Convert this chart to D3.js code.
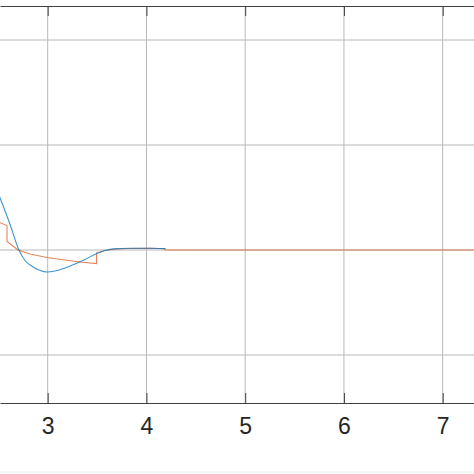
<!DOCTYPE html>
<html lang="en">
<head>
<meta charset="UTF-8">
<title>Response</title>
<script src="https://cdn.jsdelivr.net/npm/d3@7/dist/d3.min.js"></script>
<style>
  body { margin: 0; background: #fff; }
  svg { display: block; }
</style>
</head>
<body>
<script>
// data
var xTicks = [2, 3, 4, 5, 6, 7];
var yGrid = [-1, 0, 1, 2];

var tBlue = [2.50, 2.517, 2.618, 2.709, 2.77, 2.841, 2.922, 2.993, 3.074, 3.175, 3.276, 3.378, 3.499, 3.58, 3.681, 3.833, 4.036, 4.19];
var yBlue = [0.54, 0.498, 0.245, 0.0, -0.1, -0.155, -0.196, -0.21, -0.2, -0.171, -0.133, -0.09, -0.033, -0.005, 0.011, 0.016, 0.016, 0.013];

var tOrange = [2.50, 2.517, 2.588, 2.588, 2.699, 2.821, 2.993, 3.175, 3.327, 3.495, 3.495, 3.58, 3.681, 3.833, 4.04, 4.19, 4.19, 7.4];
var yOrange = [0.265, 0.26, 0.233, 0.081, 0.0, -0.038, -0.071, -0.095, -0.114, -0.129, -0.027, -0.004, 0.01, 0.015, 0.016, 0.012, 0.0, 0.0];

var w = 474, h = 474;
var pLeft = 0, pRight = 474, pTop = 6, pBottom = 403;

var x = d3.scaleLinear()
    .domain([3 - 47.7 / 98.75, 3 + 426.3 / 98.75])
    .range([pLeft, pRight]);
var y = d3.scaleLinear()
    .domain([(250 - pBottom) / 105, (250 - pTop) / 105])
    .range([pBottom, pTop]);

var shownTicks = xTicks.filter(function(d) { return x(d) >= 0; });

var svg = d3.select("body").append("svg")
    .attr("width", w)
    .attr("height", h);

svg.append("defs").append("clipPath").attr("id", "plot")
    .append("rect")
    .attr("x", pLeft).attr("y", pTop)
    .attr("width", pRight - pLeft).attr("height", pBottom - pTop);

// grid
var grid = svg.append("g").attr("stroke", "#b8b8b8").attr("stroke-width", 1);
grid.selectAll(".gx")
    .data(shownTicks)
    .enter().append("line")
    .attr("x1", function(d) { return x(d); })
    .attr("x2", function(d) { return x(d); })
    .attr("y1", pTop).attr("y2", pBottom);
grid.selectAll(".gy")
    .data(yGrid)
    .enter().append("line")
    .attr("x1", pLeft).attr("x2", pRight)
    .attr("y1", function(d) { return y(d); })
    .attr("y2", function(d) { return y(d); });

// lines
var plot = svg.append("g").attr("clip-path", "url(#plot)");

var blueLine = d3.line()
    .x(function(d) { return x(d[0]); })
    .y(function(d) { return y(d[1]); })
    .curve(d3.curveMonotoneX);
var orangeLine = d3.line()
    .x(function(d) { return x(d[0]); })
    .y(function(d) { return y(d[1]); });

plot.append("path")
    .datum(d3.zip(tOrange, yOrange))
    .attr("fill", "none")
    .attr("stroke", "#D95319")
    .attr("stroke-width", 1.1)
    .attr("stroke-opacity", 0.7)
    .attr("d", orangeLine);

plot.append("path")
    .datum(d3.zip(tBlue, yBlue))
    .attr("fill", "none")
    .attr("stroke", "#0072BD")
    .attr("stroke-width", 1.1)
    .attr("stroke-opacity", 0.75)
    .attr("d", blueLine);

// axes
var xAxis = d3.axisBottom(x)
    .tickValues(shownTicks)
    .tickFormat(d3.format("d"))
    .tickSizeInner(-10)
    .tickSizeOuter(0)
    .tickPadding(15);

var gx = svg.append("g")
    .attr("transform", "translate(0," + pBottom + ")")
    .call(xAxis);
gx.selectAll("path, line").attr("stroke", "#404040");
gx.selectAll("text")
    .attr("fill", "#262626")
    .style("font-family", "'Liberation Sans', Arial, sans-serif")
    .style("font-size", "23px");

var gTop = svg.append("g")
    .attr("transform", "translate(0," + pTop + ")")
    .call(d3.axisTop(x)
        .tickValues(shownTicks)
        .tickFormat("")
        .tickSizeInner(-10)
        .tickSizeOuter(0));
gTop.selectAll("path, line").attr("stroke", "#404040");

// faint frame edge at the bottom of the picture
svg.append("line")
    .attr("x1", 0).attr("x2", w)
    .attr("y1", 472).attr("y2", 472)
    .attr("stroke", "#eeeeee");
</script>
</body>
</html>
